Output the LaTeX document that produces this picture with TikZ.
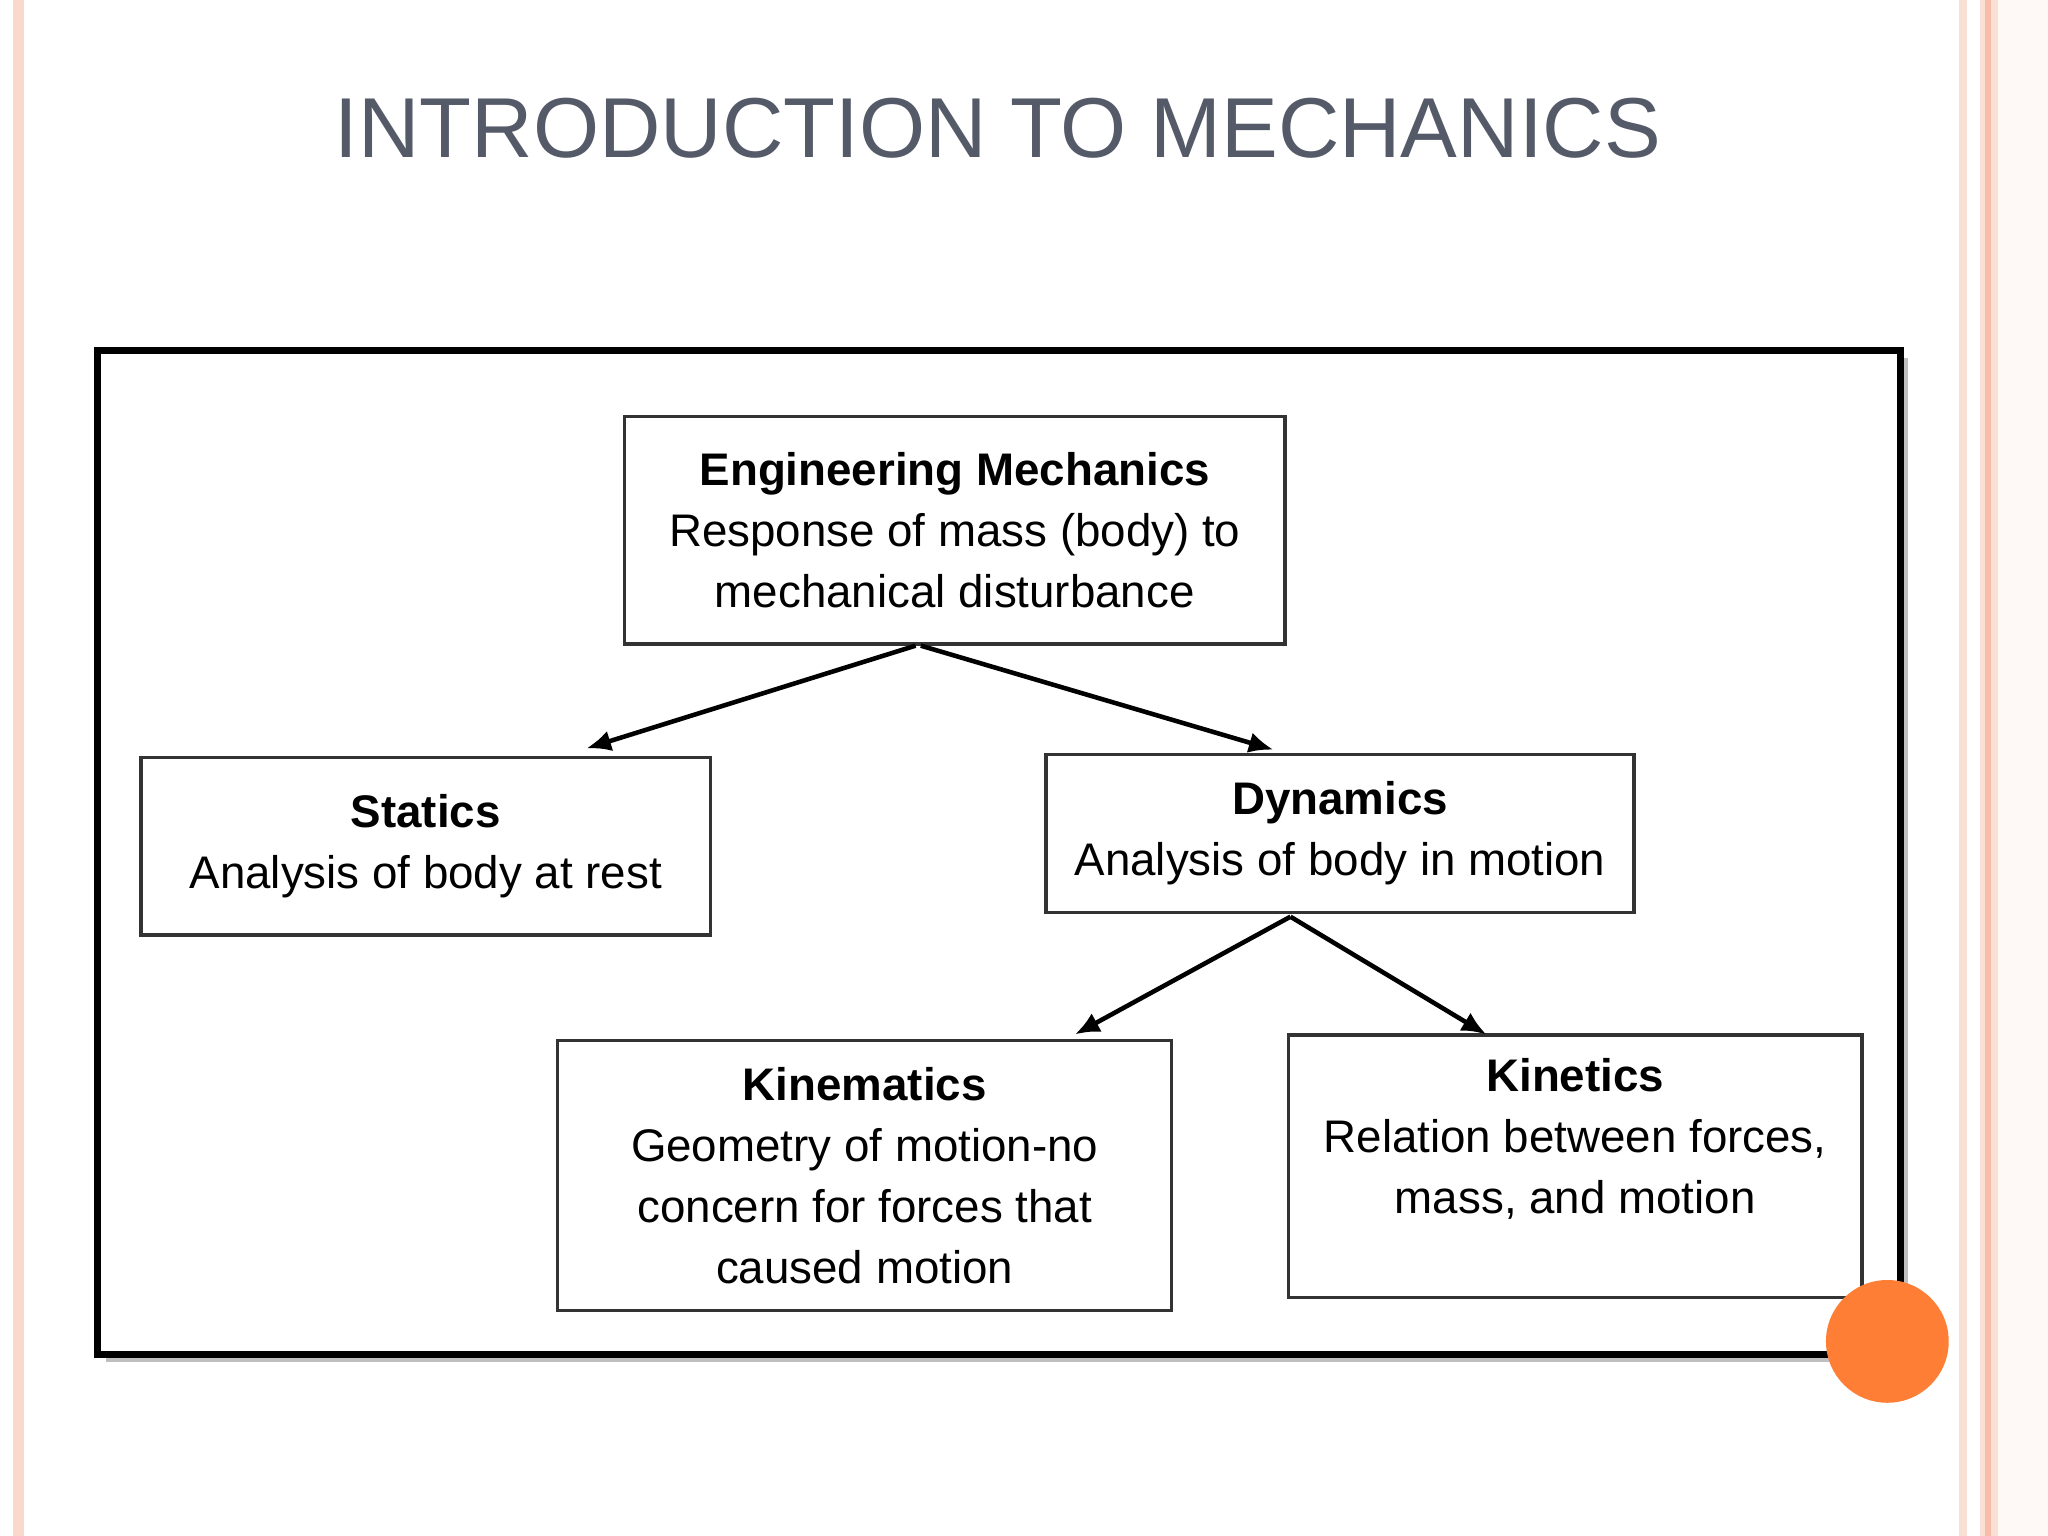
\documentclass[tikz,border=0pt]{standalone}
\usepackage{fontspec}
\setmainfont{Liberation Sans}
\usetikzlibrary{arrows.meta}
\definecolor{titlegray}{RGB}{85,90,105}
\definecolor{edgepink}{RGB}{246,190,170}
\definecolor{dotorange}{RGB}{253,126,52}
\tikzset{
  box/.style={draw=black!80, line width=1pt, fill=white, align=center,
    font=\fontsize{13}{17.3}\selectfont, inner sep=0pt},
  arr/.style={-{Latex[length=7pt,width=6pt]}, line width=1.3pt}
}
\begin{document}
\begin{tikzpicture}[x=0.013061cm,y=-0.013061cm]
\useasboundingbox (0,0) rectangle (1568,1176);
\fill[white] (0,0) rectangle (1568,1176);
% page edge stripes
\fill[edgepink!60] (10,0) rectangle (18,1176);
\fill[edgepink!50] (1500,0) rectangle (1568,1176);
\fill[white] (1506,0) rectangle (1516,1176);
\fill[edgepink] (1520,0) rectangle (1524,1176);
\fill[white!90!edgepink] (1530,0) rectangle (1568,1176);
\node (title) at (764,98) [text=titlegray, font=\fontsize{24.2}{29}\selectfont] {INTRODUCTION TO MECHANICS};
% frame
\fill[black!25] (81,274) rectangle (1461,1043);
\draw[line width=2pt, fill=white] (75,268) rectangle (1455,1037);
% boxes
\node (em) at (731,406) [box, minimum width=506*0.013061cm, minimum height=174*0.013061cm]
  {\textbf{Engineering Mechanics}\\Response of mass (body) to\\mechanical disturbance};
\node (stat) at (326,648) [box, minimum width=436*0.013061cm, minimum height=136*0.013061cm]
  {\textbf{Statics}\\Analysis of body at rest};
\node (dyn) at (1026,638) [box, minimum width=450*0.013061cm, minimum height=121*0.013061cm]
  {\textbf{Dynamics}\\Analysis of body in motion};
\node (kin) at (662,900) [box, minimum width=470*0.013061cm, minimum height=207*0.013061cm]
  {\textbf{Kinematics}\\Geometry of motion-no\\concern for forces that\\caused motion};
\node (kt) at (1206,893) [box, minimum width=439*0.013061cm, minimum height=201*0.013061cm]
  {\textbf{Kinetics}\\Relation between forces,\\mass, and motion\\\mbox{}};
\fill[dotorange] (1445,1027) circle (47);
% arrow tips
\coordinate (tstat) at (449,573);
\coordinate (tdyn) at (975,574);
\coordinate (tkin) at (823,792);
\coordinate (tkt) at (1138,792);
\draw[arr] (em.south) ++(-30,0) coordinate (s1) (s1) -- (tstat);
\draw[arr] (em.south) ++(-26,0) coordinate (s2) (s2) -- (tdyn);
\draw[arr] (dyn.south) ++(-38,2) coordinate (s3) (s3) -- (tkin);
\draw[arr] (s3) -- (tkt);
\end{tikzpicture}
\end{document}
